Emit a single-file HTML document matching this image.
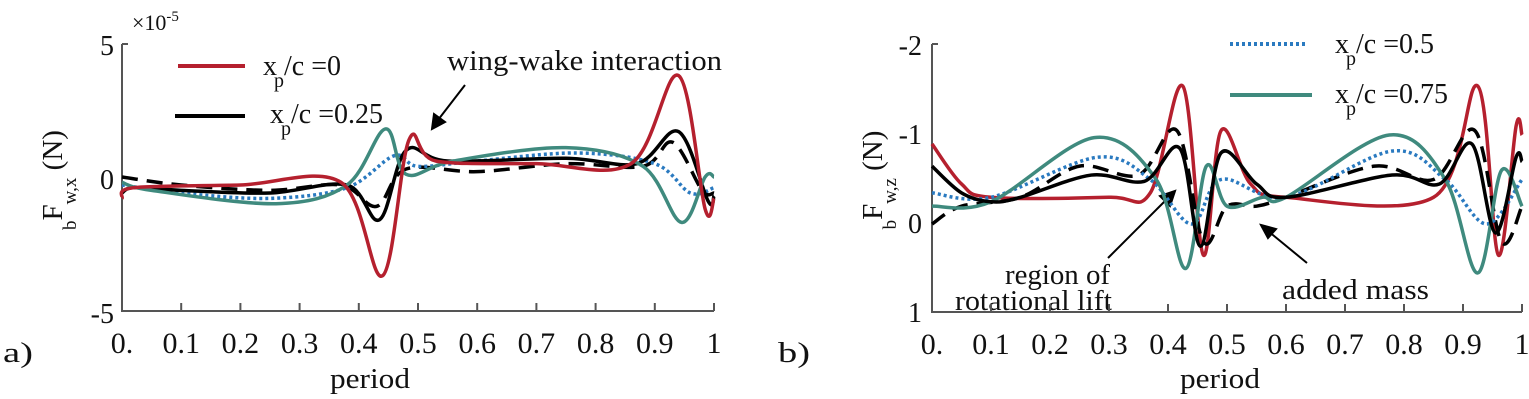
<!DOCTYPE html><html><head><style>
body{margin:0;background:#fff}
svg{font-family:"Liberation Serif",serif}
</style></head><body>
<svg id="s" width="1529" height="394" xmlns="http://www.w3.org/2000/svg">
<g font-size="28" fill="#111">
<text x="3" y="362" textLength="30" lengthAdjust="spacingAndGlyphs">a)</text><text x="778" y="362" textLength="32" lengthAdjust="spacingAndGlyphs">b)</text>
<text x="370" y="388" text-anchor="middle" textLength="80" lengthAdjust="spacingAndGlyphs">period</text>
<text x="1220" y="388" text-anchor="middle" textLength="80" lengthAdjust="spacingAndGlyphs">period</text>
<text x="132" y="30" font-size="22">×10<tspan dy="-9" font-size="15">-5</tspan></text>
<g text-anchor="end"><text x="114" y="55">5</text><text x="114" y="189">0</text><text x="114" y="323">-5</text>
<text x="922" y="55">-2</text><text x="922" y="144">-1</text><text x="922" y="233">0</text><text x="922" y="322">1</text></g>
<text transform="translate(62,180) rotate(-90)" text-anchor="middle" font-size="29"><tspan font-size="19" dy="14">b</tspan><tspan dy="-14">F</tspan><tspan font-size="19" dy="14">w,x</tspan><tspan dy="-14"> (N)</tspan></text>
<text transform="translate(882,180) rotate(-90)" text-anchor="middle" font-size="29"><tspan font-size="19" dy="14">b</tspan><tspan dy="-14">F</tspan><tspan font-size="19" dy="14">w,z</tspan><tspan dy="-14"> (N)</tspan></text>
<text x="447" y="70" textLength="275" lengthAdjust="spacingAndGlyphs">wing-wake interaction</text>
<text x="1110" y="284" text-anchor="end" textLength="105" lengthAdjust="spacingAndGlyphs">region of</text>
<text x="1112" y="310" text-anchor="end" textLength="157" lengthAdjust="spacingAndGlyphs">rotational lift</text>
<text x="1282" y="299" textLength="147" lengthAdjust="spacingAndGlyphs">added mass</text>
<text x="263" y="75">x<tspan font-size="20" dx="-3" dy="12">p</tspan><tspan dy="-12">/c =0</tspan></text>
<text x="270" y="123">x<tspan font-size="20" dx="-3" dy="12">p</tspan><tspan dy="-12">/c =0.25</tspan></text>
<text x="1335" y="53">x<tspan font-size="20" dx="-3" dy="12">p</tspan><tspan dy="-12">/c =0.5</tspan></text>
<text x="1335" y="103">x<tspan font-size="20" dx="-3" dy="12">p</tspan><tspan dy="-12">/c =0.75</tspan></text>
</g>
<g stroke-width="4" fill="none">
<line x1="178" y1="66" x2="245" y2="66" stroke="#b5202e"/>
<line x1="175" y1="116" x2="245" y2="116" stroke="#000"/>
<line x1="1230" y1="44" x2="1305" y2="44" stroke="#2a7ac0" stroke-dasharray="3,3"/>
<line x1="1230" y1="95" x2="1312" y2="95" stroke="#3f8a7e"/>
</g>
<g stroke="#000" stroke-width="2" fill="#000">
<line x1="465" y1="85" x2="438" y2="120"/><polygon points="432,129 434,114 445,122"/>
<line x1="1108" y1="258" x2="1168" y2="198"/><polygon points="1175,191 1170,206 1160,196"/>
<line x1="1307" y1="263" x2="1268" y2="231"/><polygon points="1261,225 1276,229 1268,238"/>
</g>
<g id="ax" stroke="#555" stroke-width="2" fill="none"></g>
<g id="cv" fill="none" stroke-linejoin="round"></g>
</svg>
<script>
var NS="http://www.w3.org/2000/svg";
function el(p,t,a){var e=document.createElementNS(NS,t);for(var k in a)e.setAttribute(k,a[k]);document.getElementById(p).appendChild(e);return e}
function axes(x0,x1,y0,y1){
 el("ax","path",{d:"M"+x0+","+y0+"V"+y1+"H"+x1+"M"+x0+","+y0+"h6"});
 for(var i=0;i<=10;i++){var x=x0+(x1-x0)*i/10;el("ax","line",{x1:x,y1:y1,x2:x,y2:y1-8});
  var t=el("ax","text",{x:x,y:y1+42,"text-anchor":"middle",fill:"#111",stroke:"none","font-size":"30"});t.textContent=i==0?"0.":i==10?"1":"0."+i;}
}
axes(122,714,44,311);axes(932,1522,44,312);
function path(pts,fx,fy){var P=pts.map(function(p){return[fx(p[0]),fy(p[1])]});var d="M"+P[0][0]+","+P[0][1];
 for(var i=0;i<P.length-1;i++){var p0=P[Math.max(0,i-1)],p1=P[i],p2=P[i+1],p3=P[Math.min(P.length-1,i+2)];
 d+="C"+(p1[0]+(p2[0]-p0[0])/6)+","+(p1[1]+(p2[1]-p0[1])/6)+" "+(p2[0]-(p3[0]-p1[0])/6)+","+(p2[1]-(p3[1]-p1[1])/6)+" "+p2[0]+","+p2[1];}return d}
var L={fx:function(t){return 122+t*592},fy:function(v){return 177-v*26.7}};
var R={fx:function(t){return 932+t*590},fy:function(v){return 224+v*89}};
var st={r:{stroke:"#b5202e","stroke-width":3.5},k:{stroke:"#000","stroke-width":3.5},d:{stroke:"#000","stroke-width":3.5,"stroke-dasharray":"16,9"},b:{stroke:"#2a7ac0","stroke-width":3.5,"stroke-dasharray":"3,3"},g:{stroke:"#3f8a7e","stroke-width":3.5}};
var dl={
d:[[0,0],[0.1,-0.3],[0.25,-0.5],[0.37,-0.3],[0.43,-1.1],[0.48,0.3],[0.6,0.2],[0.75,0.5],[0.88,0.4],[0.93,1.3],[0.98,-0.5],[1,-0.6]],
b:[[0,-0.3],[0.1,-0.6],[0.25,-0.8],[0.38,-0.4],[0.46,0.8],[0.5,0.4],[0.6,0.6],[0.77,0.9],[0.9,0.5],[0.96,-0.6],[1,-0.4]],
k:[[0,-0.6],[0.02,-0.4],[0.1,-0.5],[0.25,-0.6],[0.38,-0.3],[0.435,-1.6],[0.48,1.0],[0.55,0.6],[0.75,0.7],[0.87,0.5],[0.94,1.7],[0.99,-0.9],[1,-0.7]],
g:[[0,-0.2],[0.05,-0.5],[0.26,-1.0],[0.38,-0.3],[0.445,1.8],[0.48,0.1],[0.56,0.6],[0.75,1.1],[0.88,0.4],[0.945,-1.7],[0.985,0],[1,0]],
r:[[0,-0.8],[0.02,-0.4],[0.2,-0.3],[0.37,-0.2],[0.44,-3.7],[0.485,1.4],[0.53,0.6],[0.7,0.5],[0.86,0.5],[0.94,3.8],[0.985,-1.2],[1,-0.8]]};
var dr={
r:[[0,-0.9],[0.05,-0.45],[0.1,-0.3],[0.3,-0.3],[0.37,-0.35],[0.425,-1.55],[0.46,0.35],[0.49,-1.05],[0.54,-0.45],[0.6,-0.3],[0.85,-0.3],[0.925,-1.55],[0.96,0.35],[0.99,-1.1],[1,-1.0]],
d:[[0,0],[0.05,-0.2],[0.15,-0.3],[0.25,-0.65],[0.35,-0.55],[0.415,-1.05],[0.46,0.2],[0.5,-0.2],[0.55,-0.2],[0.6,-0.3],[0.75,-0.65],[0.85,-0.5],[0.92,-1.05],[0.965,0.2],[1,-0.2]],
b:[[0,-0.35],[0.1,-0.3],[0.28,-0.75],[0.37,-0.5],[0.44,0],[0.49,-0.5],[0.6,-0.3],[0.78,-0.82],[0.87,-0.5],[0.94,0],[1,-0.5]],
g:[[0,-0.2],[0.1,-0.25],[0.275,-0.97],[0.38,-0.5],[0.43,0.5],[0.465,-0.65],[0.5,-0.2],[0.56,-0.3],[0.6,-0.3],[0.775,-1.0],[0.87,-0.5],[0.925,0.55],[0.965,-0.6],[1,-0.2]],
k:[[0,-0.65],[0.05,-0.35],[0.1,-0.25],[0.15,-0.3],[0.27,-0.55],[0.36,-0.48],[0.42,-0.85],[0.455,0.25],[0.49,-0.8],[0.55,-0.45],[0.6,-0.3],[0.78,-0.55],[0.86,-0.45],[0.915,-0.9],[0.955,0.1],[0.99,-0.75],[1,-0.7]]};
for(var k in dl){var a=Object.assign({d:path(dl[k],L.fx,L.fy)},st[k]);el("cv","path",a);}
for(var k in dr){var a=Object.assign({d:path(dr[k],R.fx,R.fy)},st[k]);el("cv","path",a);}
</script>
</body></html>
